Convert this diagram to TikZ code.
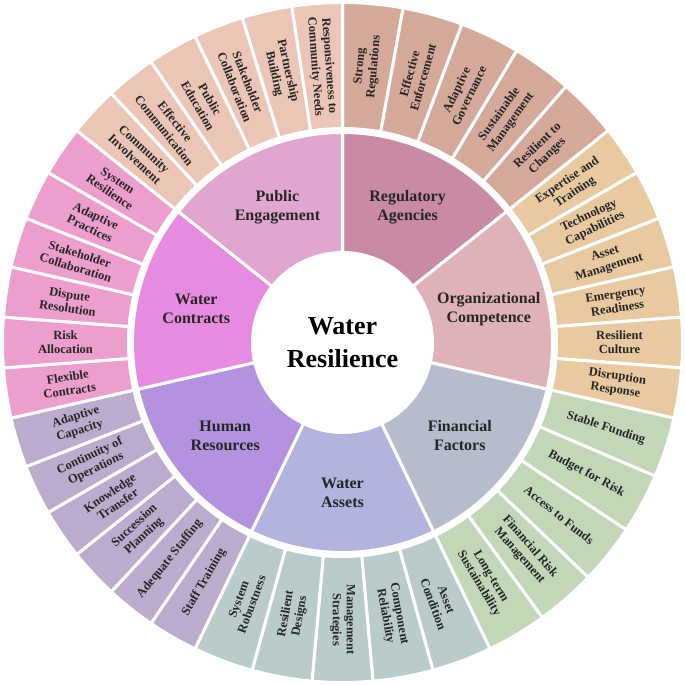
\documentclass[tikz,border=0pt]{standalone}
\usepackage{fontspec}
\setmainfont{Liberation Serif}
\definecolor{regI}{HTML}{C98AA3}\definecolor{regO}{HTML}{D4A99A}
\definecolor{orgI}{HTML}{DFB2B8}\definecolor{orgO}{HTML}{E8C9A0}
\definecolor{finI}{HTML}{B7BCCC}\definecolor{finO}{HTML}{C2D6B8}
\definecolor{astI}{HTML}{B3B3E0}\definecolor{astO}{HTML}{BACBCB}
\definecolor{hrI}{HTML}{B393E0}\definecolor{hrO}{HTML}{BBABCC}
\definecolor{conI}{HTML}{E78BE0}\definecolor{conO}{HTML}{EC9FCC}
\definecolor{pubI}{HTML}{E0A6D0}\definecolor{pubO}{HTML}{EBC5B5}
\tikzset{
 inlab/.style={align=center,font=\fontsize{16}{19}\selectfont\bfseries,text=black!85},
 outlab/.style={align=center,font=\fontsize{12.5}{14}\selectfont\bfseries,text=black!85},
 seg/.style={draw=white,line width=3pt}
}
\newcommand\wrcat[6]{%
 \pgfmathsetmacro\wa{90-#1*360/7}%
 \pgfmathsetmacro\wb{\wa-360/7}%
 \pgfmathsetmacro\wm{\wa-180/7}%
 \fill[#2,seg] (\wa:90pt) arc[start angle=\wa,end angle=\wb,radius=90pt] -- (\wb:210pt) arc[start angle=\wb,end angle=\wa,radius=210pt] -- cycle;
 \node[inlab] (c#1) at (\wm:150pt) {#4};
 \foreach \t [count=\k] in {#6} {
   \pgfmathsetmacro\sa{\wa-(\k-1)*360/7/#5}
   \pgfmathsetmacro\sb{\wa-\k*360/7/#5}
   \pgfmathsetmacro\sm{(\sa+\sb)/2}
   \pgfmathsetmacro\rt{cos(\sm)>=0 ? \sm : \sm+180}
   \fill[#3,seg] (\sa:214pt) arc[start angle=\sa,end angle=\sb,radius=214pt] -- (\sb:340pt) arc[start angle=\sb,end angle=\sa,radius=340pt] -- cycle;
   \node[outlab,rotate=\rt] (o#1-\k) at (\sm:277pt) {\t};
 }
}
\begin{document}
\begin{tikzpicture}
\fill[white] (-342.5pt,-342.5pt) rectangle (342.5pt,342.5pt);
\useasboundingbox (-342.5pt,-342.5pt) rectangle (342.5pt,342.5pt);
\wrcat{0}{regI}{regO}{Regulatory\\Agencies}{5}{{Strong\\Regulations},{Effective\\Enforcement},{Adaptive\\Governance},{Sustainable\\Management},{Resilient to\\Changes}}
\wrcat{1}{orgI}{orgO}{Organizational\\Competence}{6}{{Expertise and\\Training},{Technology\\Capabilities},{Asset\\Management},{Emergency\\Readiness},{Resilient\\Culture},{Disruption\\Response}}
\wrcat{2}{finI}{finO}{Financial\\Factors}{5}{{Stable Funding},{Budget for Risk},{Access to Funds},{Financial Risk\\Management},{Long-term\\Sustainability}}
\wrcat{3}{astI}{astO}{Water\\Assets}{5}{{Asset\\Condition},{Component\\Reliability},{Management\\Strategies},{Resilient\\Designs},{System\\Robustness}}
\wrcat{4}{hrI}{hrO}{Human\\Resources}{6}{{Staff Training},{Adequate Staffing},{Succession\\Planning},{Knowledge\\Transfer},{Continuity of\\Operations},{Adaptive\\Capacity}}
\wrcat{5}{conI}{conO}{Water\\Contracts}{6}{{Flexible\\Contracts},{Risk\\Allocation},{Dispute\\Resolution},{Stakeholder\\Collaboration},{Adaptive\\Practices},{System\\Resilience}}
\wrcat{6}{pubI}{pubO}{Public\\Engagement}{6}{{Community\\Involvement},{Effective\\Communication},{Public\\Education},{Stakeholder\\Collaboration},{Partnership\\Building},{Responsiveness to\\Community Needs}}
\node[align=center,font=\fontsize{26}{33}\selectfont\bfseries] (center) at (0,0) {Water\\Resilience};
\end{tikzpicture}
\end{document}
